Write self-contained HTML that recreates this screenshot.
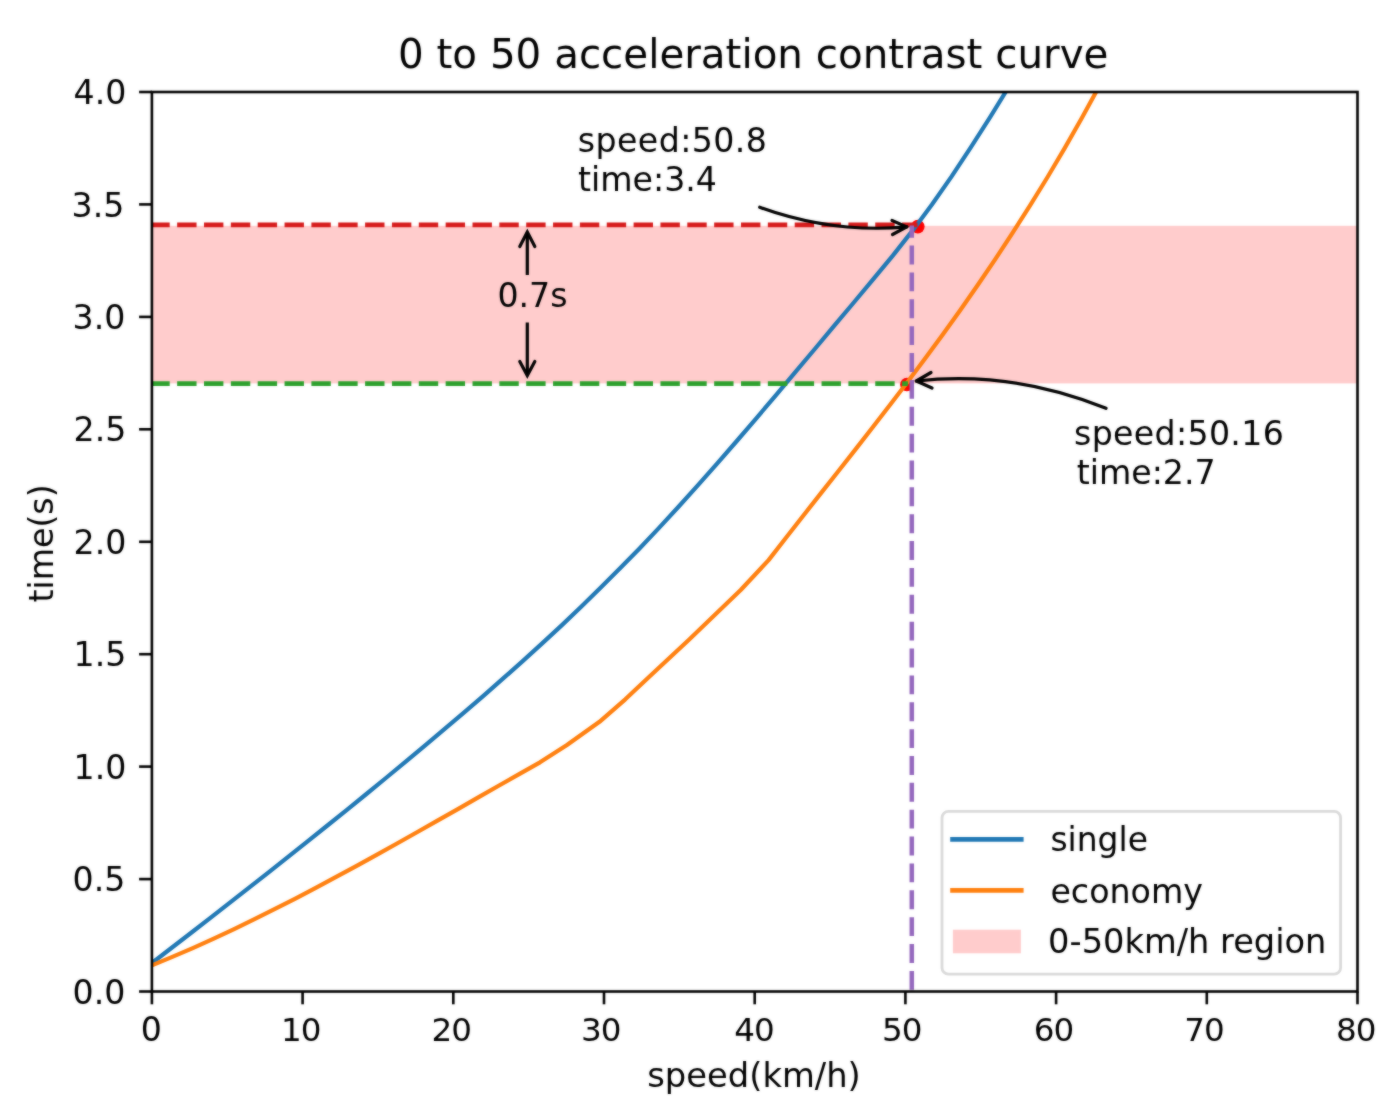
<!DOCTYPE html>
<html lang="en"><head><meta charset="utf-8"><title>0 to 50 acceleration contrast curve</title>
<style>html,body{margin:0;padding:0;background:#fff}svg{display:block}text{font-family:'DejaVu Sans','Liberation Sans',sans-serif;fill:#000}</style>
</head><body>
<svg width="1400" height="1118" viewBox="0 0 1400 1118">
<defs><filter id="soft" x="0" y="0" width="1400" height="1118" filterUnits="userSpaceOnUse" color-interpolation-filters="sRGB"><feGaussianBlur in="SourceGraphic" stdDeviation="1" result="b"/><feComposite in="SourceGraphic" in2="b" operator="arithmetic" k1="0" k2="0.5" k3="0.5" k4="0"/></filter></defs>
<g filter="url(#soft)">
<rect x="-10" y="-10" width="1420" height="1138" fill="#fff"/>
<defs><clipPath id="ax"><rect x="151.9" y="92.0" width="1205.6" height="899.5"/></clipPath></defs>
<g clip-path="url(#ax)">
<rect x="151.9" y="225.8" width="1205.6" height="157.59999999999997" fill="#ffcccc"/>
<circle cx="917.8" cy="226.6" r="6.8" fill="#ff0000"/>
<circle cx="906.9" cy="384.5" r="6.8" fill="#ff0000"/>
<path d="M151.9,963.0 L171.4,948.0 L190.9,933.0 L210.4,917.8 L229.9,902.7 L249.4,887.4 L268.9,872.1 L288.4,856.7 L307.9,841.2 L327.4,825.5 L346.9,809.8 L366.4,794.0 L385.9,778.0 L405.4,761.9 L424.9,745.6 L444.4,729.2 L463.9,712.6 L483.4,695.8 L502.9,678.7 L522.4,661.4 L541.9,643.6 L561.4,625.6 L580.9,607.1 L600.3,588.1 L619.8,568.6 L639.3,548.7 L658.8,528.1 L678.3,507.0 L697.8,485.4 L717.3,463.4 L736.8,441.0 L756.3,418.3 L775.8,395.3 L795.3,372.2 L814.8,349.0 L834.3,325.7 L853.8,302.5 L873.3,279.2 L892.8,255.6 L912.3,230.9 L931.8,204.8 L951.3,176.9 L970.8,147.4 L990.3,116.8 L1009.8,85.2" fill="none" stroke="#1f77b4" stroke-width="4.2" stroke-linejoin="round"/>
<path d="M151.9,965.4 L172.3,956.9 L192.8,948.1 L213.2,938.9 L233.6,929.3 L254.0,919.4 L274.5,909.2 L294.9,898.8 L315.3,888.1 L335.7,877.2 L356.2,866.1 L376.6,854.9 L397.0,843.5 L417.4,832.0 L437.9,820.4 L458.3,808.8 L478.7,797.2 L499.1,785.5 L519.6,773.9 L540.0,762.3 L566.6,745.3 L599.5,721.8 L625.3,699.3 L649.0,677.0 L688.7,640.0 L740.7,590.0 L768.6,560.1 L786.0,537.8 L803.4,515.5 L820.8,493.4 L838.3,471.3 L855.7,449.1 L873.1,426.8 L890.5,404.2 L907.9,381.4 L925.3,358.2 L942.8,334.5 L960.2,310.2 L977.6,285.3 L995.0,259.6 L1012.4,233.2 L1029.8,205.8 L1047.3,177.5 L1064.7,148.1 L1082.1,117.5 L1099.5,85.7" fill="none" stroke="#ff7f0e" stroke-width="4.2" stroke-linejoin="round"/>
<path d="M150.3,224.9 L917.5,224.9" stroke="#d61a1a" stroke-width="4.7" stroke-dasharray="19.4,7.45" fill="none"/>
<path d="M150.3,383.6 L907.9,383.6" stroke="#2ca02c" stroke-width="4.7" stroke-dasharray="19.4,7.45" fill="none"/>
<path d="M911.8,989.8 L911.8,225.6" stroke="#9467bd" stroke-width="4.5" stroke-dasharray="18.9,7.963" fill="none"/>
</g>
<rect x="151.9" y="92.0" width="1205.6" height="899.5" fill="none" stroke="#000" stroke-width="2.6" stroke-linejoin="miter"/>
<path d="M151.9,991.5 v12.8" stroke="#000" stroke-width="2.6"/>
<text x="151.2" y="1041.4" font-size="33.2" text-anchor="middle">0</text>
<path d="M302.6,991.5 v12.8" stroke="#000" stroke-width="2.6"/>
<text x="300.8" y="1041.4" font-size="32.6" letter-spacing="-1" text-anchor="middle">10</text>
<path d="M453.3,991.5 v12.8" stroke="#000" stroke-width="2.6"/>
<text x="451.2" y="1041.4" font-size="32.6" letter-spacing="-1" text-anchor="middle">20</text>
<path d="M604.0,991.5 v12.8" stroke="#000" stroke-width="2.6"/>
<text x="600.8" y="1041.4" font-size="32.6" letter-spacing="-1" text-anchor="middle">30</text>
<path d="M754.7,991.5 v12.8" stroke="#000" stroke-width="2.6"/>
<text x="754.1" y="1041.4" font-size="32.6" letter-spacing="-1" text-anchor="middle">40</text>
<path d="M905.4,991.5 v12.8" stroke="#000" stroke-width="2.6"/>
<text x="901.8" y="1041.4" font-size="32.6" letter-spacing="-1" text-anchor="middle">50</text>
<path d="M1056.1,991.5 v12.8" stroke="#000" stroke-width="2.6"/>
<text x="1053.4" y="1041.4" font-size="32.6" letter-spacing="-1" text-anchor="middle">60</text>
<path d="M1206.8,991.5 v12.8" stroke="#000" stroke-width="2.6"/>
<text x="1204.0" y="1041.4" font-size="32.6" letter-spacing="-1" text-anchor="middle">70</text>
<path d="M1357.5,991.5 v12.8" stroke="#000" stroke-width="2.6"/>
<text x="1355.7" y="1041.4" font-size="32.6" letter-spacing="-1" text-anchor="middle">80</text>
<path d="M151.9,991.5 h-12.8" stroke="#000" stroke-width="2.6"/>
<text x="125.3" y="1003.6" font-size="33.2" text-anchor="end">0.0</text>
<path d="M151.9,879.1 h-12.8" stroke="#000" stroke-width="2.6"/>
<text x="125.3" y="891.2" font-size="33.2" text-anchor="end">0.5</text>
<path d="M151.9,766.6 h-12.8" stroke="#000" stroke-width="2.6"/>
<text x="126.3" y="778.7" font-size="33.2" text-anchor="end">1.0</text>
<path d="M151.9,654.2 h-12.8" stroke="#000" stroke-width="2.6"/>
<text x="126.3" y="666.3" font-size="33.2" text-anchor="end">1.5</text>
<path d="M151.9,541.8 h-12.8" stroke="#000" stroke-width="2.6"/>
<text x="126.3" y="553.9" font-size="33.2" text-anchor="end">2.0</text>
<path d="M151.9,429.3 h-12.8" stroke="#000" stroke-width="2.6"/>
<text x="126.3" y="441.4" font-size="33.2" text-anchor="end">2.5</text>
<path d="M151.9,316.9 h-12.8" stroke="#000" stroke-width="2.6"/>
<text x="125.3" y="329.0" font-size="33.2" text-anchor="end">3.0</text>
<path d="M151.9,204.4 h-12.8" stroke="#000" stroke-width="2.6"/>
<text x="124.3" y="216.5" font-size="33.2" text-anchor="end">3.5</text>
<path d="M151.9,92.0 h-12.8" stroke="#000" stroke-width="2.6"/>
<text x="126.3" y="104.1" font-size="33.2" text-anchor="end">4.0</text>
<text x="753.2" y="68.3" font-size="40.4" text-anchor="middle">0 to 50 acceleration contrast curve</text>
<text x="754" y="1087" font-size="33.76" text-anchor="middle">speed(km/h)</text>
<text transform="translate(53.3,543.5) rotate(-90)" font-size="33.2" text-anchor="middle">time(s)</text>
<text x="577.8" y="152" font-size="33.2" letter-spacing="0.42">speed:50.8</text>
<text x="578" y="190.8" font-size="33.2">time:3.4</text>
<text x="1074.1" y="444.8" font-size="33.2" letter-spacing="0.32">speed:50.16</text>
<text x="1076.7" y="483.5" font-size="33.2">time:2.7</text>
<text x="532.5" y="307.3" font-size="33.2" text-anchor="middle">0.7s</text>
<path d="M759.7,207.2 Q832.8,233.6 906.8,226.9" fill="none" stroke="#000" stroke-width="3.2" stroke-linecap="round"/>
<path d="M892,220.5 L906.8,226.9 L892.5,234.5" fill="none" stroke="#000" stroke-width="3.2" stroke-linecap="round" stroke-linejoin="round"/>
<path d="M1106,408.3 Q1011.1,370 916.3,381" fill="none" stroke="#000" stroke-width="3.2" stroke-linecap="round"/>
<path d="M931,372.5 L916.3,381 L932,388" fill="none" stroke="#000" stroke-width="3.2" stroke-linecap="round" stroke-linejoin="round"/>
<path d="M527.3,275 L527.3,232.5" fill="none" stroke="#000" stroke-width="3.2"/>
<path d="M519.8,246.5 L527.3,232 L534.8,246.5" fill="none" stroke="#000" stroke-width="3.2" stroke-linecap="round" stroke-linejoin="miter"/>
<path d="M527.3,322.5 L527.3,375" fill="none" stroke="#000" stroke-width="3.2"/>
<path d="M519.8,361.5 L527.3,375.5 L534.8,361.5" fill="none" stroke="#000" stroke-width="3.2" stroke-linecap="round" stroke-linejoin="miter"/>
<rect x="942" y="811.4" width="398.6" height="162.8" rx="6.5" ry="6.5" fill="#fff" fill-opacity="0.8" stroke="#d9d9d9" stroke-width="2.8"/>
<path d="M952.6,839.3 H1021.2" stroke="#1f77b4" stroke-width="4.8" stroke-linecap="square"/>
<path d="M952.6,890.3 H1021.2" stroke="#ff7f0e" stroke-width="4.8" stroke-linecap="square"/>
<rect x="952.9" y="929.7" width="68" height="23.6" fill="#ffcccc"/>
<text x="1050.4" y="851.4" font-size="32.95">single</text>
<text x="1050.4" y="902.8" font-size="33.25">economy</text>
<text x="1048.1" y="953.4" font-size="33.65">0-50km/h region</text>
</g>
</svg>
</body></html>
